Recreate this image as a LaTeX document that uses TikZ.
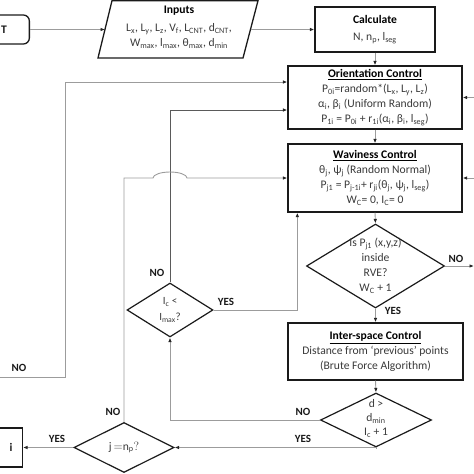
\documentclass[tikz,border=0pt]{standalone}
\usepackage{fontspec}
\setmainfont{Carlito}
\usetikzlibrary{shapes.geometric,arrows.meta}
\newcommand{\sbs}[1]{\textsubscript{#1}}
\definecolor{boxline}{HTML}{1A1A1A}
\definecolor{cgray}{HTML}{9C9C9C}
\definecolor{cdark}{HTML}{5A5A5A}
\definecolor{txt}{HTML}{3A3A3A}
\begin{document}
\begin{tikzpicture}[x=1pt,y=1pt,
  box/.style={draw=boxline, line width=1.3pt, fill=white, align=center, inner sep=0pt,
    font=\fontsize{11.6}{15}\selectfont, text=txt},
  dia/.style={diamond, draw=boxline, line width=1.2pt, inner sep=0pt},
  dtext/.style={align=center, inner sep=0pt, font=\fontsize{11.6}{15}\selectfont, text=txt},
  conn/.style={draw=cgray, line width=0.9pt},
  arr/.style={conn, -{Latex[length=4.5pt,width=3.6pt,color=black!85]}},
  darr/.style={draw=cdark, line width=0.9pt, -{Latex[length=4.5pt,width=3.6pt,color=black!85]}},
  lbl/.style={font=\bfseries\fontsize{11}{12}\selectfont, text=black!90, inner sep=0pt}
]
\useasboundingbox (0,0) rectangle (474,-474);

% start and end (cut by the left edge)
\node[draw=boxline, line width=1.3pt, rounded corners=6pt, minimum width=60, minimum height=29,
      anchor=east, inner sep=0pt] (start) at (30,-29.5) {};
\node[lbl, font=\bfseries\fontsize{11.6}{12}\selectfont] (starttxt) at (4,-29.5) {T};
\node[draw=boxline, line width=1.3pt, minimum width=50, minimum height=39, anchor=east, inner sep=0pt]
      (endb) at (23,-447.5) {};
\node[lbl, font=\bfseries\fontsize{11.6}{12}\selectfont] (endtxt) at (11,-447.5) {i};

% inputs parallelogram
\draw[draw=boxline, line width=1.3pt, fill=white] (112,-0.7) -- (258,-0.7) -- (243,-58) -- (98,-58) -- cycle;
\coordinate (inL) at (105,-29.5);
\coordinate (inR) at (250.5,-29.5);
\node[align=center, inner sep=0pt, font=\fontsize{11.6}{15}\selectfont, text=txt] (inp) at (179,-27)
  {\textcolor{black}{\textbf{Inputs}}\\[3pt]
   L\sbs{x}, L\sbs{y}, L\sbs{z}, V\sbs{f}, L\sbs{CNT}, d\sbs{CNT},\\
   W\sbs{max}, l\sbs{max}, θ\sbs{max}, d\sbs{min}};

% boxes
\node[box, minimum width=120, minimum height=45] (calc) at (375,-29.5)
  {\textcolor{black}{\textbf{Calculate}}\\[2pt] N, n\sbs{p}, l\sbs{seg}};
\node[box, minimum width=174, minimum height=63] (ori) at (375,-97.5)
  {\textcolor{black}{\underline{\textbf{Orientation Control}}}\\
   P\sbs{0i}=random*(L\sbs{x}, L\sbs{y}, L\sbs{z})\\
   α\sbs{i}, β\sbs{i} (Uniform Random)\\
   P\sbs{1i} = P\sbs{0i} + r\sbs{1i}(α\sbs{i}, β\sbs{i}, l\sbs{seg})};
\node[box, minimum width=174, minimum height=68] (wav) at (375,-178)
  {\textcolor{black}{\underline{\textbf{Waviness Control}}}\\
   θ\sbs{j}, ψ\sbs{j} (Random Normal)\\
   P\sbs{j1} = P\sbs{j-1i}+ r\sbs{ji}(θ\sbs{j}, ψ\sbs{j}, l\sbs{seg})\\
   W\sbs{C}= 0, I\sbs{C}= 0};
\node[box, minimum width=175, minimum height=57] (isp) at (375.5,-351.5)
  {\textcolor{black}{\underline{\textbf{Inter-space Control}}}\\
   Distance from ‘previous’ points\\
   (Brute Force Algorithm)};

% diamonds
\node[dia, minimum width=138, minimum height=84] (d1) at (375.5,-266) {};
\node[dtext] (d1t) at (d1) {Is P\sbs{j1} (x,y,z)\\ inside\\ RVE?\\ W\sbs{C} + 1};
\node[dia, minimum width=111, minimum height=54] (d2) at (376,-420) {};
\node[dtext, font=\fontsize{11.6}{14}\selectfont] (d2t) at (376,-418.5) {d >\\ $\mathrm{d}_{\mathrm{min}}$\\ I\sbs{c} + 1};
\node[dia, minimum width=86, minimum height=54] (ic) at (170,-310) {};
\node[dtext, font=\fontsize{11}{16}\selectfont] (ict) at (ic) {I\sbs{c} <\\ I\sbs{max}?};
\node[dia, minimum width=100, minimum height=50] (jd) at (124,-447.5) {};
\node[dtext] (jdt) at (jd) {$\mathrm{j}\,{=}\mathrm{n_p}?$};

% free ends
\coordinate (rNO) at (474,-266);
\coordinate (rOri) at (474,-97.5);
\coordinate (rWav) at (474,-178);
\coordinate (lin) at (0,-377);
\coordinate (lk) at (65,-377);

% connectors
\draw[arr] (start.east) -- (inL);
\draw[arr] (inR) -- (calc.west);
\draw[arr] (calc.south) -- (ori.north);
\draw[arr] (ori.south) -- (wav.north);
\draw[arr] (wav.south) -- (d1.north);
\draw[arr] (d1.south) -- (isp.north);
\draw[arr] (d1.east) -- (rNO);
\draw[arr] (rOri) -- (ori.east);
\draw[arr] (rWav) -- (wav.east);
\draw[arr] (isp.south) -- (d2.north);
\draw[arr] (d2.west) -| (ic.south);
\draw[arr] (d2.south) |- (jd.east);
\draw[arr] (jd.west) -- (endb.east);
\draw[darr] (ic.north) |- ([yshift=-12.5pt]ori.west);
\draw[arr] (ic.east) -| ([xshift=10pt]wav.south west);
\draw[arr] (jd.north) |- ([xshift=-17pt]ic.north |- wav.west)
   arc[start angle=180, end angle=0, x radius=17pt, y radius=6pt] -- (wav.west);
\draw[arr] (lin) -- (lk) |- ([yshift=15.5pt]ori.west);

% labels
\node[lbl] (l1) at (393,-311) {YES};
\node[lbl] (l2) at (456,-259) {NO};
\node[lbl] (l3) at (303,-411.5) {NO};
\node[lbl] (l4) at (303,-439) {YES};
\node[lbl] (l5) at (57,-439) {YES};
\node[lbl] (l6) at (113,-412) {NO};
\node[lbl] (l7) at (157,-273) {NO};
\node[lbl] (l8) at (226,-302) {YES};
\node[lbl] (l9) at (19,-368) {NO};
\end{tikzpicture}
\end{document}
